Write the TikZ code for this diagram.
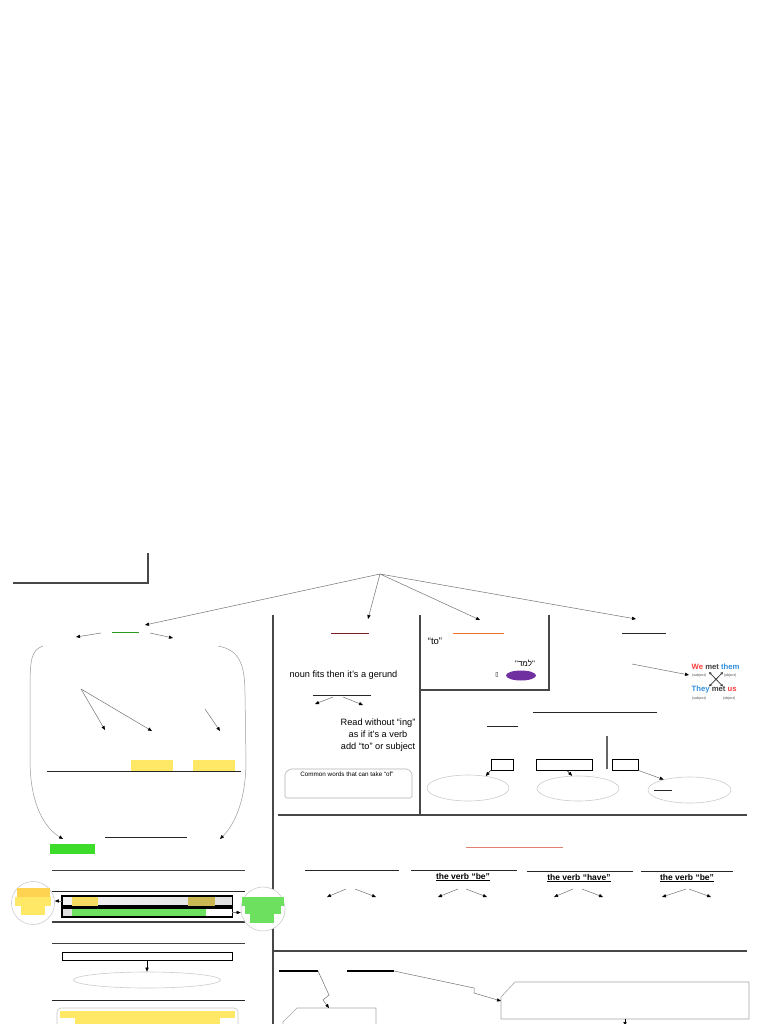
\documentclass[tikz,border=0pt]{standalone}
\usepackage{fontspec}
\setmainfont{Liberation Sans}
\newfontfamily\hebfont[Script=Hebrew]{Liberation Sans}
\newfontfamily\symfont{DejaVu Sans}
\TeXXeTstate=1
\usetikzlibrary{arrows.meta,shapes.geometric}
\definecolor{wered}{HTML}{FF3B3B}
\definecolor{themblue}{HTML}{2F8FE0}
\definecolor{metgray}{HTML}{404040}
\definecolor{hlyellow}{HTML}{FFE866}
\definecolor{dimyellow}{HTML}{F0D860}
\definecolor{hlgreen}{HTML}{3DDC2A}
\definecolor{softgreen}{HTML}{6EE060}
\definecolor{purp}{HTML}{7030A0}
\definecolor{darkred}{HTML}{7F2020}
\definecolor{orng}{HTML}{F07030}
\definecolor{salmon}{HTML}{E08070}
\begin{document}
\begin{tikzpicture}[x=1pt,y=-1pt,
  struct/.style={draw=black!72,line width=1.2pt},
  thinline/.style={draw=black!85,line width=0.8pt},
  stipple/.style={draw=black!75,line width=1pt},
  thickline/.style={draw=black,line width=1.9pt},
  light/.style={draw=black!22,line width=0.6pt},
  arr/.style={draw=black!55,line width=0.5pt,-{Triangle[length=4pt,width=3.2pt,color=black]}},
  cross/.style={draw=black!75,line width=0.8pt,{Triangle[length=2.5pt,width=2.5pt]}-{Triangle[length=2.5pt,width=2.5pt]}},
  rbox/.style={draw=black,line width=0.8pt,fill=white,inner sep=0pt},
  oval/.style={ellipse,draw=black!20,line width=0.6pt,inner sep=0pt},
  txt/.style={inner sep=0pt,font=\fontsize{9.2}{12}\selectfont},
  verbtxt/.style={inner sep=0pt,font=\bfseries\fontsize{8.5}{10}\selectfont},
  tiny/.style={inner sep=0pt,font=\fontsize{3.6}{4}\selectfont,text=black!70}]
\useasboundingbox (0,0) rectangle (768,1024);
\fill[white] (0,0) rectangle (768,1024);

% ---------- top-left corner line
\draw[struct] (13,583) -- (148,583) -- (148,553);

% ---------- root connectors
\coordinate (root) at (380,574);
\coordinate (tL) at (145,625);
\coordinate (tM) at (368,619);
\coordinate (tC) at (480,620);
\coordinate (tR) at (636,619);
\draw[arr] (root) -- (tL);
\draw[arr] (root) -- (tM);
\draw[arr] (root) -- (tC);
\draw[arr] (root) -- (tR);

% ---------- main frame lines
\draw[struct] (273,615) -- (273,1024);
\draw[struct] (420,615) -- (420,815);
\draw[struct] (421,690) -- (549,690) -- (549,615);
\draw[struct] (278,815) -- (747,815);
\draw[struct] (273,951) -- (747,951);

% ---------- left column
\draw[draw=hlgreen!70!black,line width=1pt] (112,632) -- (139,632);
\coordinate (la1) at (101,633); \coordinate (la1t) at (76,637);
\coordinate (la2) at (150,633); \coordinate (la2t) at (173,638);
\draw[arr] (la1) -- (la1t);
\draw[arr] (la2) -- (la2t);
\coordinate (cl0) at (43,646); \coordinate (clt) at (63,839);
\coordinate (cr0) at (218,646); \coordinate (crt) at (220,839);
\draw[arr,draw=black!40] (cl0) .. controls (31,650) and (30,660) .. (30,690) -- (30,760) .. controls (30,805) and (45,828) .. (clt);
\draw[arr,draw=black!40] (cr0) .. controls (240,650) and (245,665) .. (245,695) -- (246,760) .. controls (246,800) and (235,824) .. (crt);
\coordinate (fa) at (81,689);
\coordinate (fa1) at (105,730); \coordinate (fa2) at (152,731);
\coordinate (fb) at (205,709); \coordinate (fb1) at (220,731);
\draw[arr] (fa) -- (fa1);
\draw[arr] (fa) -- (fa2);
\draw[arr] (fb) -- (fb1);
\fill[hlyellow] (131,760) rectangle (173,771);
\fill[hlyellow] (193,760) rectangle (235,771);
\draw[thinline] (47,771) -- (241,771);
\draw[thinline] (105,837) -- (187,837);
\fill[hlgreen] (50,844) rectangle (95,854);
\draw[stipple] (52,870) -- (245,870);
\draw[thinline] (52,891) -- (245,891);
\draw[stipple,line width=1.2pt] (52,922) -- (245,922);
\draw[stipple] (52,943) -- (245,943);
\draw[thinline] (52,1000) -- (245,1000);

% highlighted bars
\node[rbox,minimum width=170pt,minimum height=9.5pt,left color=black!4,right color=black!12] (r1) at (147,901) {};
\fill[dimyellow!70!hlyellow] (72,896.5) rectangle (98,905.5);
\fill[dimyellow!85!black] (188,896.5) rectangle (215,905.5);
\draw[draw=black,line width=0.8pt] (r1.south west) rectangle (r1.north east);
\node[rbox,minimum width=170pt,minimum height=8.5pt] (r2) at (147,912.5) {};
\fill[black!12] (62.5,908.7) rectangle (72,916.3);
\fill[softgreen] (72,908.7) rectangle (206,916.3);
\draw[draw=black,line width=0.8pt] (r2.south west) rectangle (r2.north east);

% circles
\node[circle,draw=black!20,fill=white,line width=0.6pt,minimum size=43pt,inner sep=0pt] (cl) at (33,903) {};
\fill[hlyellow!80!orange] (17,888) rectangle (50,897);
\fill[hlyellow] (15,896.5) rectangle (51,906);
\fill[hlyellow] (21,906) rectangle (45,915);
\node[circle,draw=black!20,fill=white,line width=0.6pt,minimum size=44pt,inner sep=0pt] (cr) at (263,909) {};
\fill[softgreen] (242,897) rectangle (284,906);
\fill[softgreen] (245,906) rectangle (281,914);
\fill[softgreen] (250,914) rectangle (274,923);
\draw[arr] (r1.west) -- (r1.west -| cl.east);
\draw[arr] (r2.east) -- (r2.east -| cr.west);

% lower bar and ellipse
\node[rbox,minimum width=170pt,minimum height=8pt] (r3) at (147,956) {};
\node[oval,minimum width=147pt,minimum height=16pt] (e0) at (147,980) {};
\draw[arr,draw=black] (r3.south) -- (e0.north);

% bottom rounded box
\draw[light,rounded corners=4pt,fill=white] (57,1030) -- (57,1008) -- (238,1008) -- (238,1030);
\fill[hlyellow] (60,1011) rectangle (235,1018);
\fill[hlyellow] (75,1017.5) rectangle (220,1030);

% ---------- middle column
\draw[draw=darkred,line width=0.9pt] (331,633) -- (369,633);
\node[txt] (gerund) at (343.5,675) {noun fits then it’s a gerund};
\draw[thinline] (313,695) -- (371,695);
\coordinate (ga1) at (333,697); \coordinate (ga1t) at (315,704);
\coordinate (ga2) at (343,697); \coordinate (ga2t) at (363,705);
\draw[arr] (ga1) -- (ga1t);
\draw[arr] (ga2) -- (ga2t);
\node[txt,align=center] (readw) at (378,735.5) {Read without “ing”\\as if it’s a verb\\add “to” or subject};
\draw[light,draw=black!30,rounded corners=1.5pt] (285,798) -- (285,773) -- (290,769) -- (408,769) -- (412,773) -- (412,798) -- cycle;
\node[inner sep=0pt,font=\fontsize{6.3}{7}\selectfont] (common) at (347,774) {Common words that can take “of”};

% ---------- "to" section
\node[inner sep=0pt,font=\fontsize{9.5}{11}\selectfont] (tolab) at (435,641.5) {“to”};
\draw[draw=orng,line width=0.9pt] (453,633) -- (504,633);
\node[inner sep=0pt,font=\hebfont\fontsize{8}{9}\selectfont] (heb) at (525,663.5) {\beginR"למד"\endR};
\node[inner sep=0pt,font=\symfont\fontsize{6}{7}\selectfont] (tofu) at (497,675) {▯};
\node[ellipse,fill=purp,minimum width=30pt,minimum height=10pt,inner sep=0pt] (pel) at (521,675.5) {};

% ---------- right column top
\draw[thinline] (622,633) -- (666,633);
\coordinate (wa) at (632,664); \coordinate (wat) at (689,675);
\draw[arr] (wa) -- (wat);
\node[anchor=west,inner sep=0pt,font=\bfseries\fontsize{7.7}{8}\selectfont] (we) at (691.5,666.5) {\textcolor{wered}{We} \textcolor{metgray}{met} \textcolor{themblue}{them}};
\node[anchor=west,tiny] (s1) at (692,675.5) {(subject)};
\node[anchor=west,tiny] (o1) at (724,675.5) {(object)};
\coordinate (x1) at (709,686.5); \coordinate (x2) at (723,672);
\coordinate (x3) at (709,672); \coordinate (x4) at (723,686.5);
\draw[cross] (x1) -- (x2);
\draw[cross] (x3) -- (x4);
\node[anchor=west,inner sep=0pt,font=\bfseries\fontsize{7.7}{8}\selectfont] (they) at (691.5,690) {\textcolor{themblue}{They} \textcolor{metgray}{met} \textcolor{wered}{us}};
\node[anchor=west,tiny] (s2) at (692,699) {(subject)};
\node[anchor=west,tiny] (o2) at (723,699) {(object)};

\draw[thinline] (533,712) -- (657,712);
\draw[thinline] (487,726) -- (518,726);
\draw[draw=black!60,line width=1.4pt] (607,736) -- (607,769);
\node[rbox,minimum width=22pt,minimum height=11pt] (b1) at (502,764.5) {};
\node[rbox,minimum width=56pt,minimum height=11pt] (b2) at (564,764.5) {};
\node[rbox,minimum width=26pt,minimum height=11pt] (b3) at (625,764.5) {};
\node[oval,minimum width=82pt,minimum height=26pt] (e1) at (468,788) {};
\node[oval,minimum width=82pt,minimum height=25pt] (e2) at (578,788.5) {};
\node[oval,minimum width=83pt,minimum height=26pt] (e3) at (689.5,790) {};
\draw[arr,draw=black] (b1.south west) -- (e1.34);
\draw[arr,draw=black] ([xshift=3pt]b2.south) -- (e2.115);
\draw[arr] (b3.south east) -- (e3.158);
\draw[thinline] (654,790) -- (672,790);

% ---------- verb band
\draw[draw=salmon,line width=0.9pt] (466,847) -- (563,847);
\draw[thinline] (305,870) -- (399,870);
\draw[thinline] (411,870) -- (517,870);
\draw[thinline] (527,871) -- (633,871);
\draw[thinline] (641,871) -- (733,871);
\node[verbtxt] (v1) at (463,877) {\underline{the verb “be”}};
\node[verbtxt] (v2) at (579,878) {\underline{the verb “have”}};
\node[verbtxt] (v3) at (687,878) {\underline{the verb “be”}};
\foreach \lx/\ltx/\rx/\rtx [count=\i] in {346/327/355/376, 458/438/466/487, 573/554/582/603, 686/662/689/711}{
  \coordinate (p\i a) at (\lx,889); \coordinate (p\i at) at (\ltx,897);
  \coordinate (p\i b) at (\rx,889); \coordinate (p\i bt) at (\rtx,897);
  \draw[arr] (p\i a) -- (p\i at);
  \draw[arr] (p\i b) -- (p\i bt);
}

% ---------- bottom band
\coordinate (h1s) at (279,971); \coordinate (h1e) at (318,971);
\coordinate (h2s) at (347,971); \coordinate (h2e) at (394,971);
\draw[thickline] (h1s) -- (h1e);
\draw[thickline] (h2s) -- (h2e);
\draw[light,draw=black!35] (501,1019) -- (501,997) -- (515,982) -- (749,982) -- (749,1019) -- cycle;
\draw[light,draw=black!35] (283,1030) -- (283,1022) -- (297,1008) -- (376,1008) -- (376,1030);
\coordinate (bx1) at (329,1008);
\coordinate (bx2) at (501,1001);
\draw[arr] (h1e) -- (329,995) -- (323,1000) -- (bx1);
\draw[arr] (h2e) -- (474,988) -- (474,993) -- (bx2);
\coordinate (bd1) at (625,1019); \coordinate (bd2) at (625,1026);
\draw[arr,draw=black] (bd1) -- (bd2);
\end{tikzpicture}
\end{document}
